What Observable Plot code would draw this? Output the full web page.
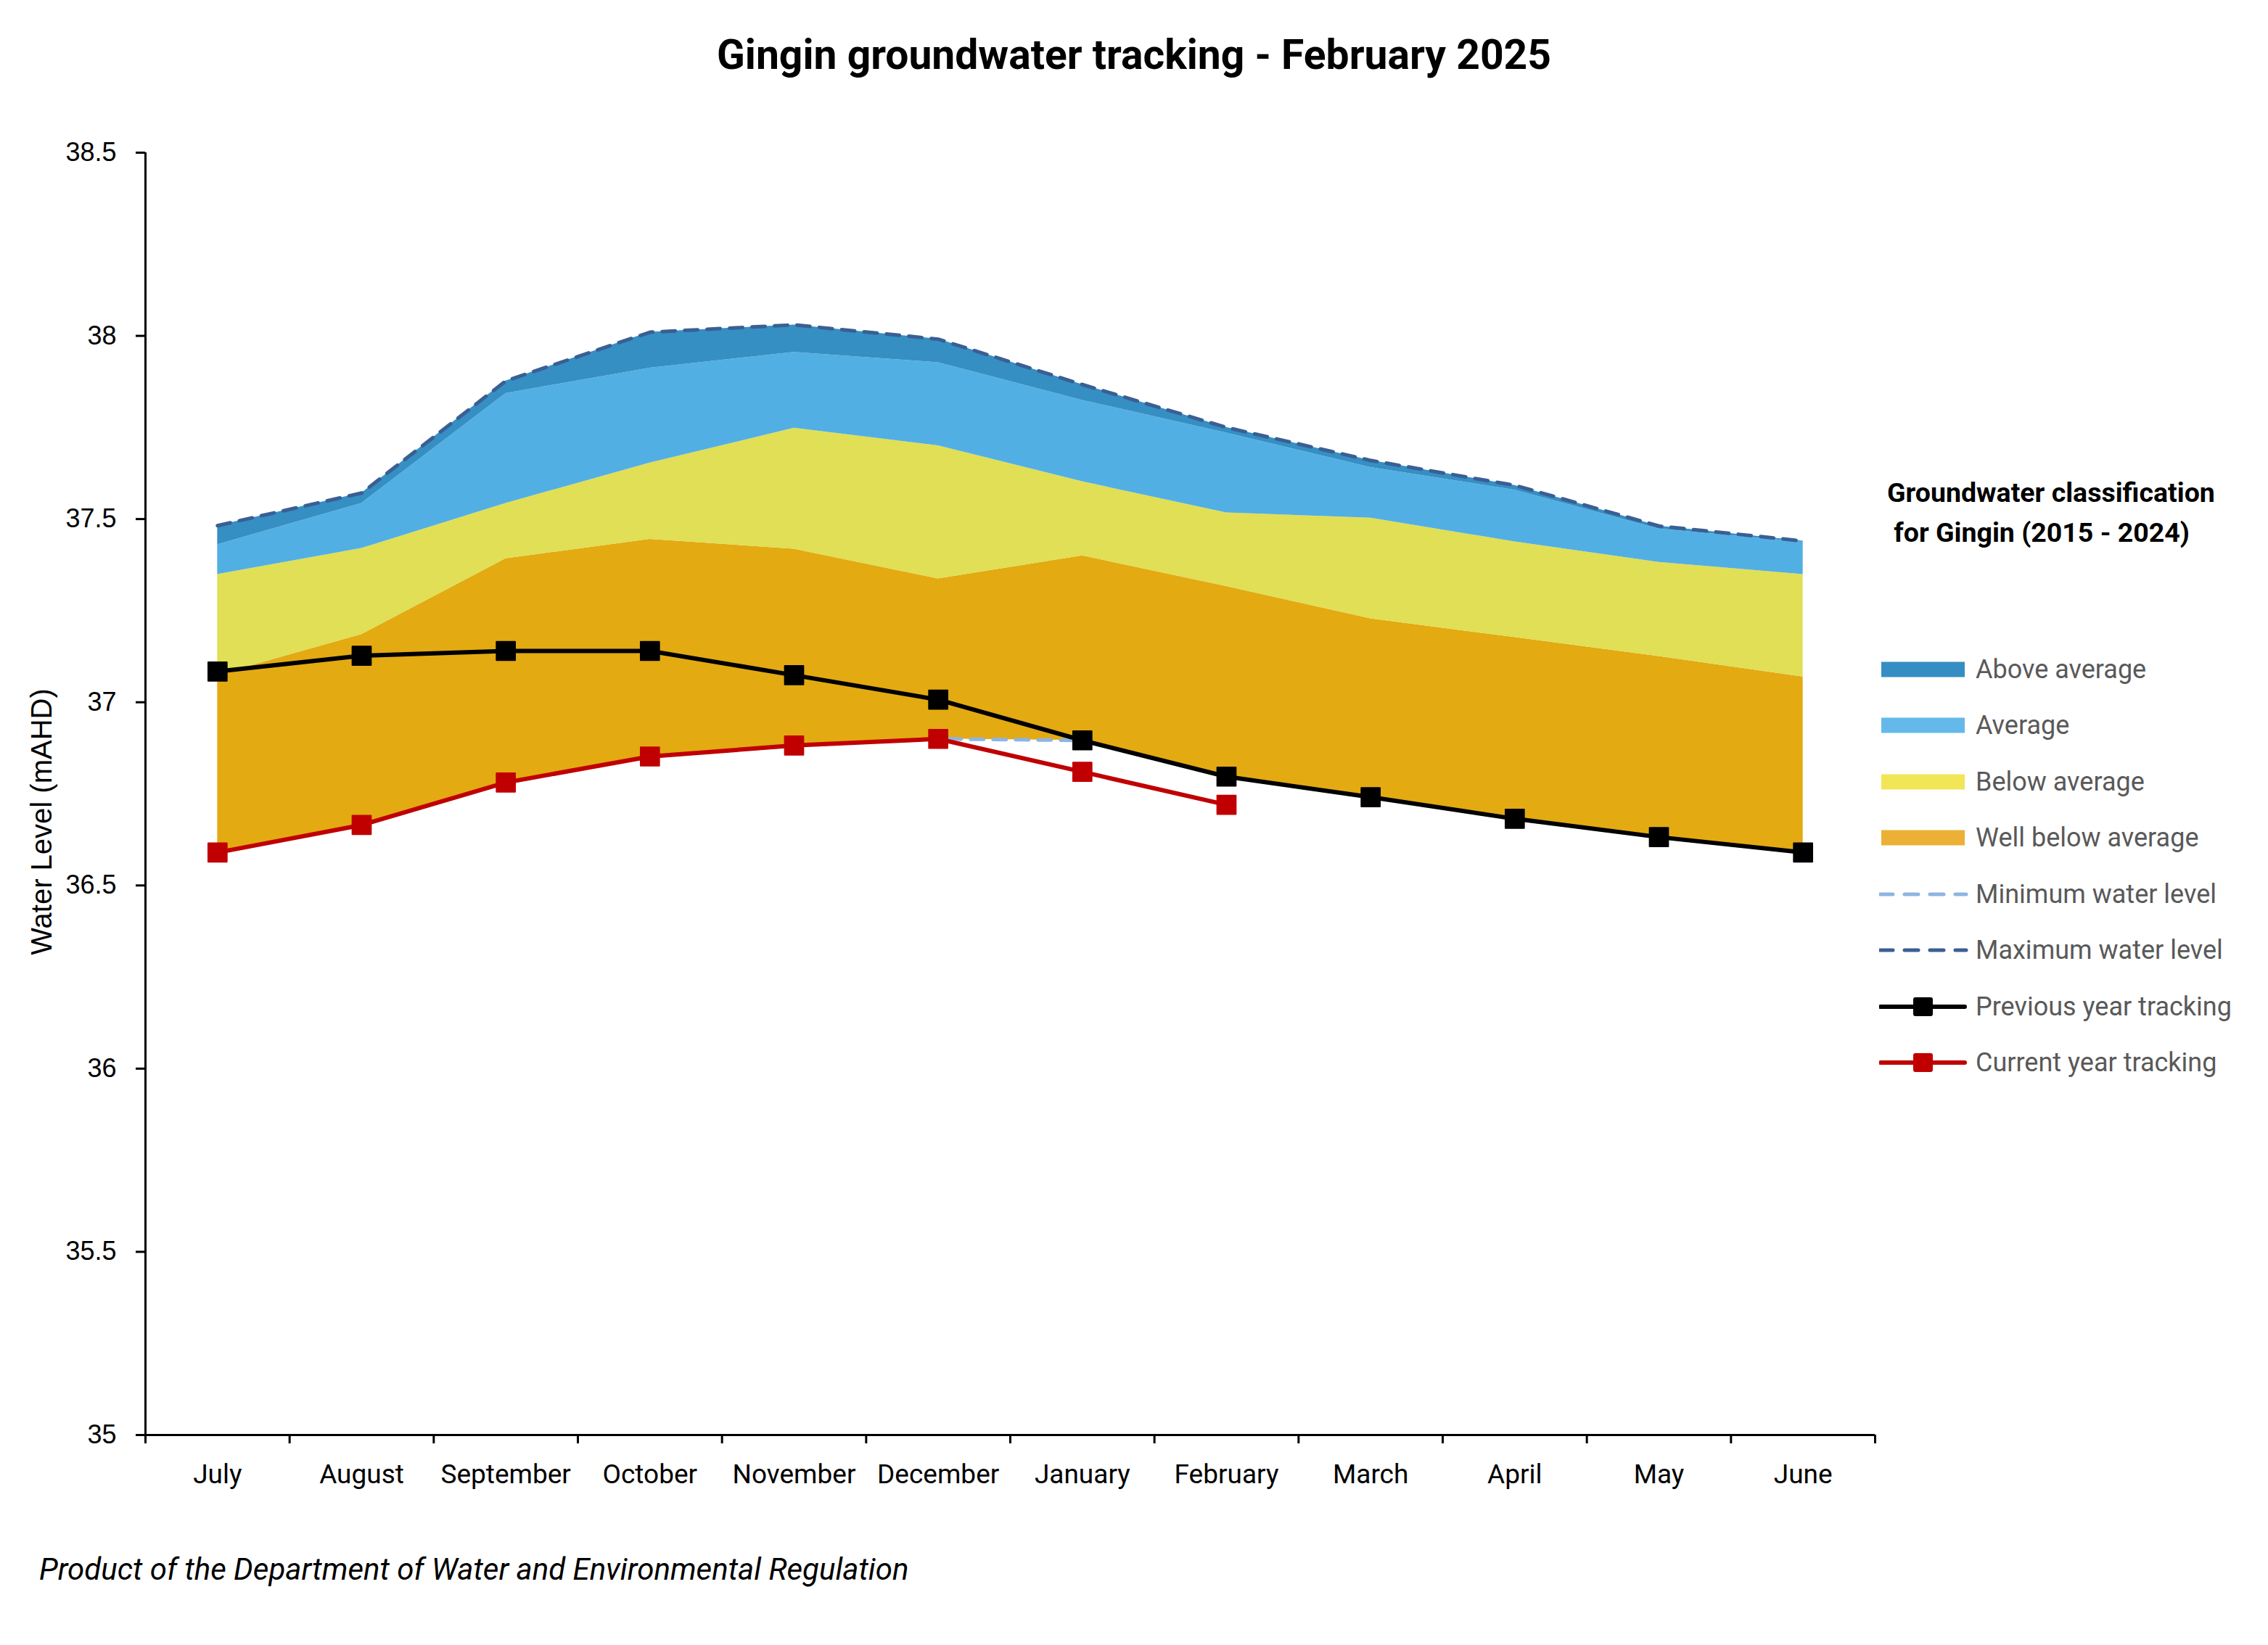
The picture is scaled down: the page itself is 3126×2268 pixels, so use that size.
<!DOCTYPE html>
<html><head><meta charset="utf-8">
<script src="https://cdn.jsdelivr.net/npm/d3@7"></script>
<script src="https://cdn.jsdelivr.net/npm/@observablehq/plot@0.6"></script>
<style>
body{margin:0;background:#fff;}
#wrap{position:relative;width:3126px;height:2268px;overflow:hidden;background:#fff;font-family:Roboto,"Liberation Sans",sans-serif;}
#chart{position:absolute;left:0;top:0;}
#title{position:absolute;left:0;top:44px;width:3126px;text-align:center;font-size:57px;line-height:64px;font-weight:bold;color:#000;}
#ylabel{position:absolute;left:57px;top:1133px;transform:translate(-50%,-50%) rotate(-90deg);font-size:40px;font-family:"Liberation Sans",Arial,sans-serif;white-space:nowrap;color:#000;}
#caption{position:absolute;left:54px;top:2140px;font-size:42px;line-height:48px;font-style:italic;color:#000;white-space:nowrap;}
#legend{position:absolute;left:0;top:0;}
.lt{position:absolute;font-size:37.5px;font-weight:bold;line-height:55px;white-space:pre;color:#000;}
.li{position:absolute;font-size:36px;line-height:44px;color:#595959;white-space:nowrap;}
.ls{position:absolute;}
</style></head><body>
<div id="wrap">
 <div id="title">Gingin groundwater tracking - February 2025</div>
 <div id="chart"></div>
 <div id="ylabel">Water Level (mAHD)</div>
 <div id="legend"></div>
 <div id="caption">Product of the Department of Water and Environmental Regulation</div>
</div>
<script>
const months = ["July","August","September","October","November","December","January","February","March","April","May","June"];
const maxLevel      = [37.482, 37.571, 37.877, 38.010, 38.030, 37.991, 37.867, 37.750, 37.660, 37.592, 37.481, 37.440];
const aboveAvgLower = [37.430, 37.543, 37.843, 37.912, 37.955, 37.927, 37.824, 37.735, 37.641, 37.579, 37.473, 37.437];
const avgLower      = [37.349, 37.420, 37.543, 37.653, 37.748, 37.700, 37.602, 37.517, 37.503, 37.438, 37.382, 37.349];
const belowLower    = [37.074, 37.185, 37.392, 37.445, 37.418, 37.337, 37.400, 37.316, 37.228, 37.177, 37.125, 37.069];
const minLevel      = [36.590, 36.665, 36.781, 36.852, 36.882, 36.900, 36.896, 36.797, 36.741, 36.682, 36.632, 36.590];
const previousYear  = [37.084, 37.127, 37.140, 37.140, 37.074, 37.007, 36.896, 36.797, 36.741, 36.682, 36.632, 36.590];
const currentYear   = [36.590, 36.665, 36.781, 36.852, 36.882, 36.900, 36.810, 36.720];
const yTicks = [35, 35.5, 36, 36.5, 37, 37.5, 38, 38.5];

const legendTitle = "Groundwater classification\n for Gingin (2015 - 2024)";
const legendLabels = ["Above average","Average","Below average","Well below average","Minimum water level","Maximum water level","Previous year tracking","Current year tracking"];

const colors = {
  above: "#358FC3", avg: "#52AFE3", below: "#E0DF55", well: "#E3AA12",
  minLine: "#8EB4E3", maxLine: "#3A5F94", prev: "#000000", cur: "#C00000"
};
const legendSwatch = ["#358EC3","#64B9EA","#F1E655","#EBB035"];

const rows = months.map((m, i) => ({
  i, month: m, max: maxLevel[i], above: aboveAvgLower[i], avg: avgLower[i],
  below: belowLower[i], min: minLevel[i], prev: previousYear[i]
}));
const curRows = currentYear.map((v, i) => ({i, v}));
const boundaries = months.map((_, i) => i - 0.5).concat([months.length - 0.5]);
const centers = months.map((_, i) => i);

const W = 3126, H = 2080;
const chart = Plot.plot({
  width: W, height: H,
  marginTop: 210, marginBottom: H - 1978, marginLeft: 200, marginRight: W - 2584,
  style: {fontFamily: "'Liberation Sans', Arial, sans-serif", fontSize: "36px", color: "#000", background: "transparent", overflow: "visible"},
  x: {type: "linear", domain: [-0.5, months.length - 0.5], axis: null},
  y: {domain: [35, 38.5], axis: null},
  marks: [
    Plot.areaY(rows, {x: "i", y1: "min", y2: "below", fill: colors.well}),
    Plot.areaY(rows, {x: "i", y1: "below", y2: "avg", fill: colors.below}),
    Plot.areaY(rows, {x: "i", y1: "avg", y2: "above", fill: colors.avg}),
    Plot.areaY(rows, {x: "i", y1: "above", y2: "max", fill: colors.above}),
    Plot.line(rows, {x: "i", y: "min", stroke: colors.minLine, strokeWidth: 5, strokeDasharray: "18,13"}),
    Plot.line(rows, {x: "i", y: "max", stroke: colors.maxLine, strokeWidth: 5, strokeDasharray: "18,13"}),
    Plot.line(rows, {x: "i", y: "prev", stroke: colors.prev, strokeWidth: 6}),
    Plot.dot(rows, {x: "i", y: "prev", symbol: "square", r: 14.5, fill: colors.prev, stroke: colors.prev, strokeWidth: 2, strokeLinejoin: "round"}),
    Plot.line(curRows, {x: "i", y: "v", stroke: colors.cur, strokeWidth: 6}),
    Plot.dot(curRows, {x: "i", y: "v", symbol: "square", r: 14.5, fill: colors.cur, stroke: colors.cur, strokeWidth: 2, strokeLinejoin: "round"}),
    Plot.ruleX([-0.5], {y1: 35, y2: 38.5, stroke: "#000", strokeWidth: 3}),
    Plot.ruleY([35], {x1: -0.5, x2: months.length - 0.5, stroke: "#000", strokeWidth: 3}),
    Plot.axisY({ticks: yTicks, tickSize: 13, tickPadding: 27, tickFormat: d => String(d), strokeWidth: 3, fontSize: 36, fontFamily: "'Liberation Sans', Arial, sans-serif", label: null}),
    Plot.axisX({ticks: boundaries, tickSize: 12, tickFormat: () => "", strokeWidth: 3, label: null}),
    Plot.axisX({ticks: centers, tickSize: 0, tickPadding: 40, tickFormat: i => months[i], fontSize: 37, fontFamily: "Roboto, 'Liberation Sans', sans-serif", label: null})
  ]
});
document.getElementById("chart").appendChild(chart);

// Legend
const lg = document.getElementById("legend");
const lt = document.createElement("div");
lt.className = "lt"; lt.textContent = legendTitle;
lt.style.left = "2601px"; lt.style.top = "652px";
lg.appendChild(lt);
const svgNS = "http://www.w3.org/2000/svg";
legendLabels.forEach((lab, k) => {
  const cy = 922.5 + k * 77.5;
  const s = document.createElementNS(svgNS, "svg");
  s.setAttribute("width", 124); s.setAttribute("height", 40);
  s.setAttribute("class", "ls");
  s.style.left = "2590px"; s.style.top = (cy - 20) + "px";
  let html = "";
  if (k < 4) {
    html = `<rect x="3" y="9.5" width="115" height="21" fill="${legendSwatch[k]}"/>`;
  } else if (k < 6) {
    const c = k === 4 ? colors.minLine : colors.maxLine;
    html = `<line x1="0" x2="120" y1="20" y2="20" stroke="${c}" stroke-width="5" stroke-dasharray="19,16" stroke-linecap="round"/>`;
  } else {
    const c = k === 6 ? colors.prev : colors.cur;
    html = `<line x1="2" x2="118" y1="20" y2="20" stroke="${c}" stroke-width="6" stroke-linecap="round"/>` +
           `<rect x="47" y="7" width="27" height="26" rx="3" fill="${c}"/>`;
  }
  s.innerHTML = html;
  lg.appendChild(s);
  const t = document.createElement("div");
  t.className = "li"; t.textContent = lab;
  t.style.left = "2723px"; t.style.top = (cy - 22) + "px";
  lg.appendChild(t);
});
</script>
</body></html>
